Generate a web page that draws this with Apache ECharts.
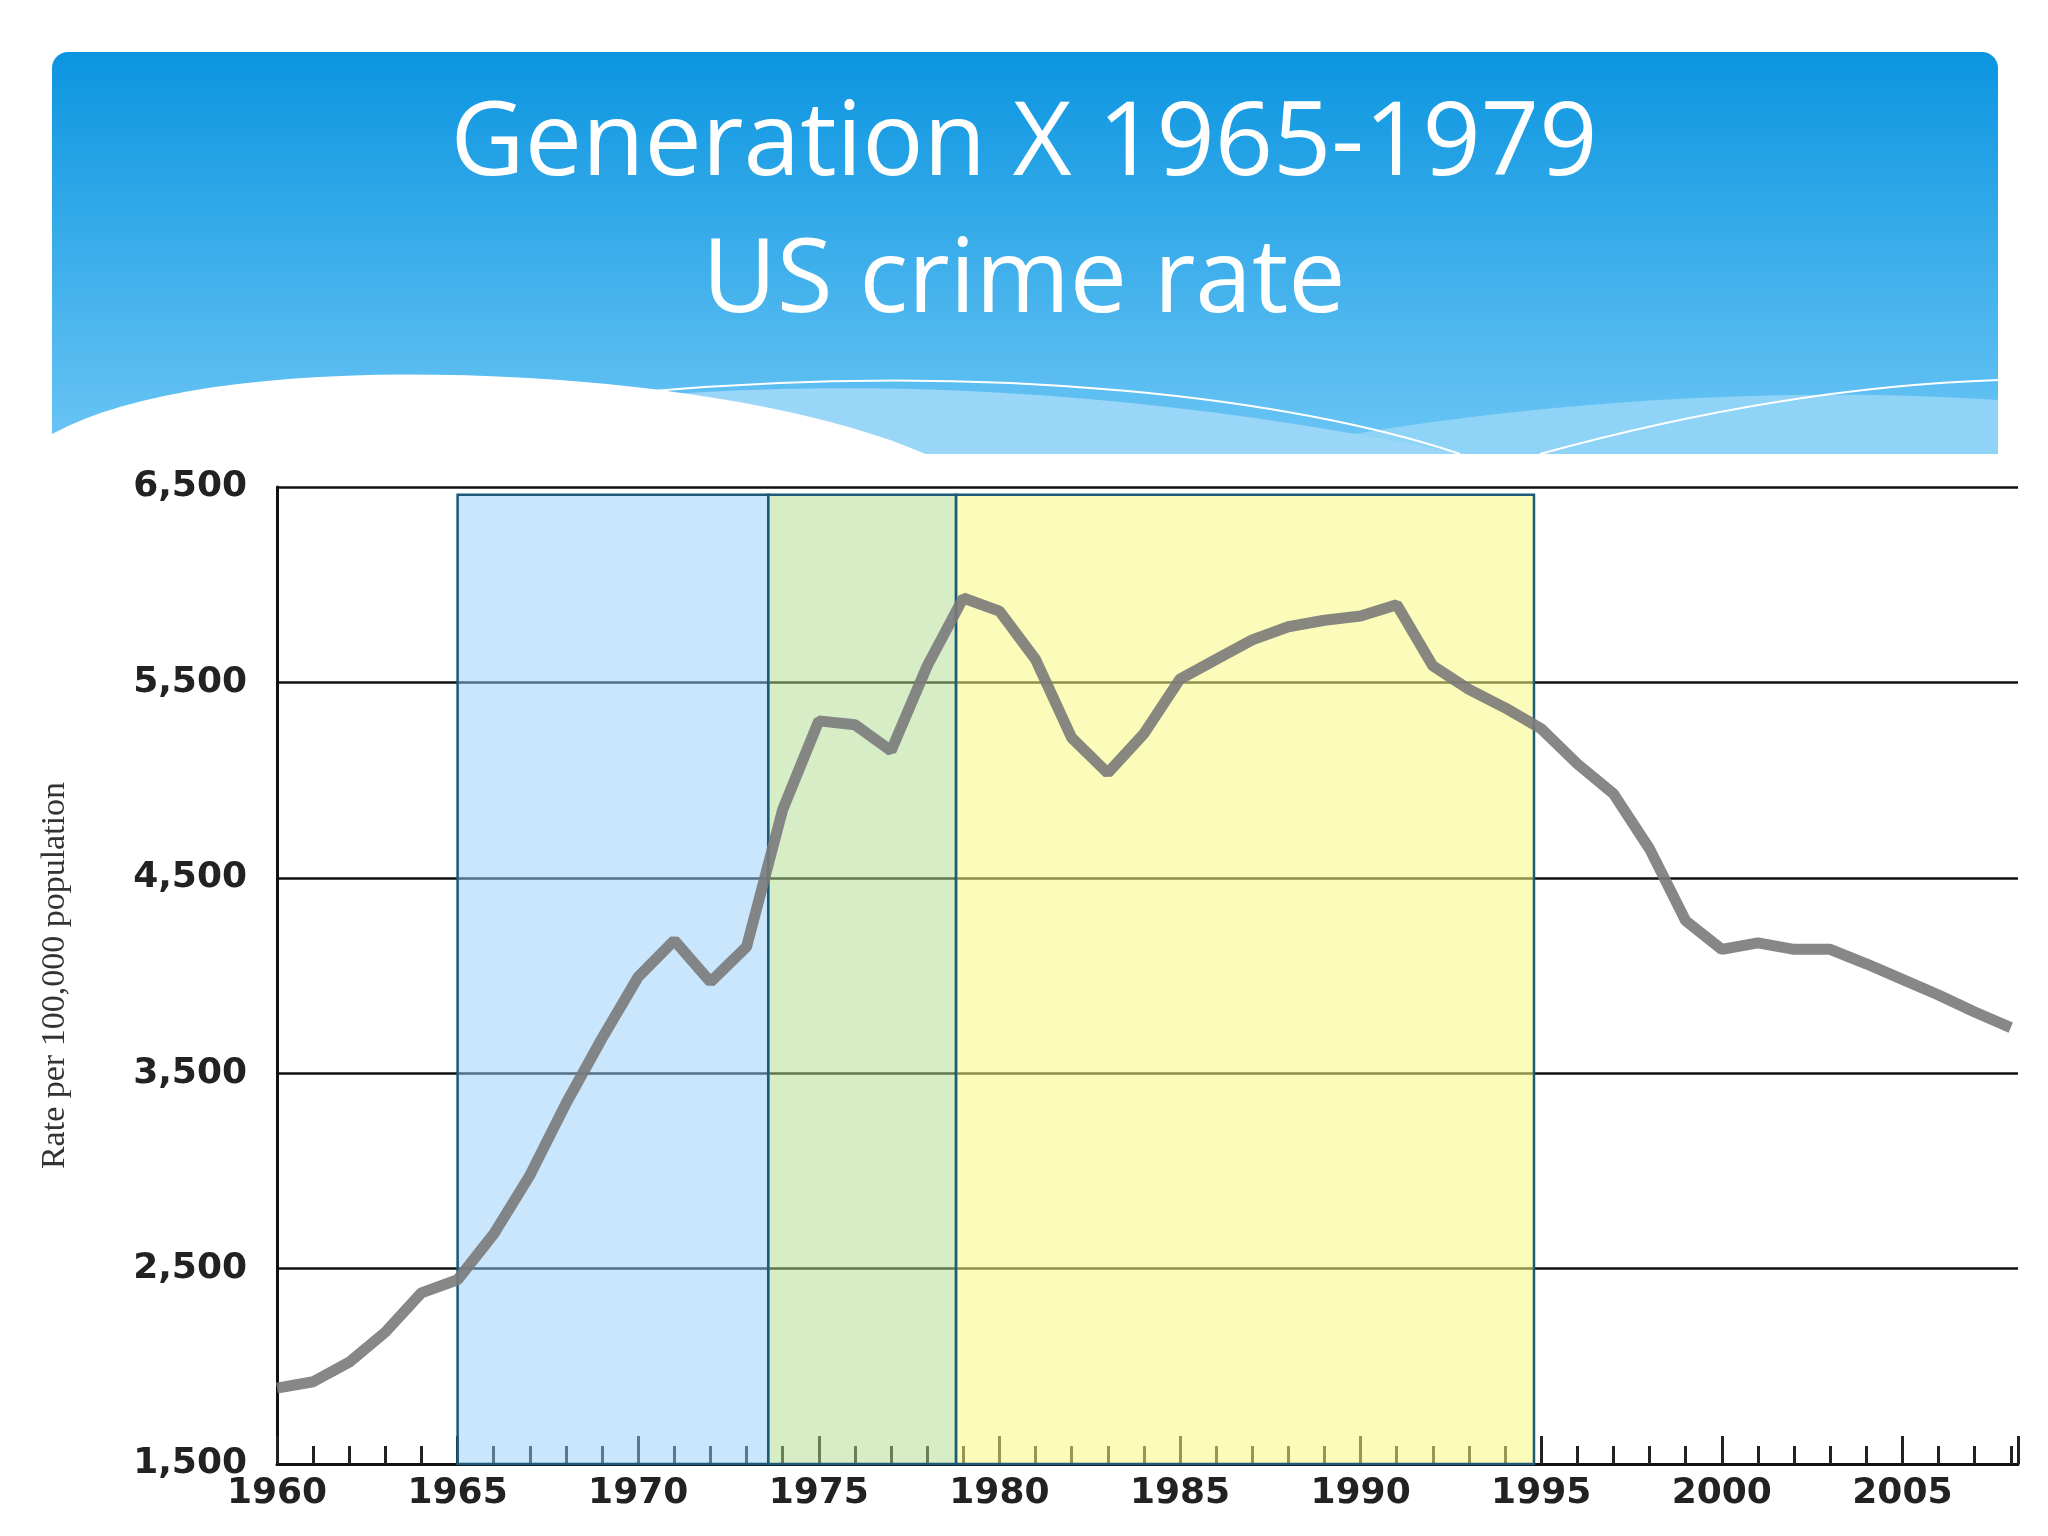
<!DOCTYPE html>
<html lang="en">
<head>
<meta charset="UTF-8">
<title>Generation X 1965-1979 US crime rate</title>
<script src="https://cdn.jsdelivr.net/npm/echarts@6/dist/echarts.min.js"></script>
<style>html,body{margin:0;background:#fff}#chart{width:2048px;height:1536px}</style>
</head>
<body>
<div id="chart"></div>
<script>
// crime rate per 100,000
var years = [];
for (var y = 1960; y <= 2008; y++) years.push(y);
var rates = [1888, 1921, 2021, 2175, 2376, 2443, 2677, 2977, 3345, 3679,
             3993, 4180, 3967, 4147, 4849, 5303, 5283, 5150, 5584, 5932,
             5865, 5618, 5217, 5036, 5237, 5517, 5618, 5718, 5785, 5818,
             5840, 5898, 5584, 5464, 5370, 5263, 5083, 4930, 4648, 4280,
             4134, 4167, 4134, 4134, 4060, 3980, 3900, 3813, 3733];
// shaded periods [from, to, colour]
var bands = [
    [1965, 1973.6, 'rgba(150,205,250,0.5)'],
    [1973.6, 1978.8, 'rgba(175,220,140,0.5)'],
    [1978.8, 1994.8, 'rgba(250,250,130,0.55)']
];
var bandTop = 6460;
var titleLines = ['Generation X 1965-1979', 'US crime rate'];

// sample a chain of cubic curves into polygon points (header decoration only)
function curvePts(start, segs, close) {
    var pts = [start], p = start;
    segs.forEach(function (s) {
        for (var t = 0.05; t <= 1.0001; t += 0.05) {
            var u = 1 - t;
            pts.push([
                u*u*u*p[0] + 3*u*u*t*s[0][0] + 3*u*t*t*s[1][0] + t*t*t*s[2][0],
                u*u*u*p[1] + 3*u*u*t*s[0][1] + 3*u*t*t*s[1][1] + t*t*t*s[2][1]
            ]);
        }
        p = s[2];
    });
    return pts.concat(close);
}

var chart = echarts.init(document.getElementById('chart'));
chart.setOption({
    backgroundColor: '#fff',
    animation: false,
    graphic: [
        {type: 'rect', shape: {x: 52, y: 52, width: 1946, height: 402, r: 16}, z: -10,
         style: {fill: new echarts.graphic.LinearGradient(0, 0, 0, 1, [
             {offset: 0, color: '#0b95e0'}, {offset: 1, color: '#6cc6f5'}])}},
        {type: 'polygon', z: -9, shape: {points: curvePts([1998, 400],
            [[[1700, 380], [1400, 420], [1250, 454]]], [[1998, 454]])}, style: {fill: '#8fd3f7'}},
        {type: 'polygon', z: -9, shape: {points: curvePts([600, 400],
            [[[900, 370], [1200, 400], [1460, 454]]], [[600, 454]])}, style: {fill: '#9ad6f7'}},
        {type: 'polygon', z: -8, shape: {points: curvePts([52, 434],
            [[[150, 380], [350, 365], [560, 380]], [[720, 392], [850, 420], [930, 456]]], [[52, 456]])},
         style: {fill: '#fff'}},
        {type: 'bezierCurve', z: -8, shape: {x1: 640, y1: 392, cpx1: 1000, cpy1: 360, cpx2: 1300, cpy2: 400, x2: 1460, y2: 454},
         style: {fill: 'none', stroke: '#fff', lineWidth: 2}},
        {type: 'bezierCurve', z: -8, shape: {x1: 1540, y1: 454, cpx1: 1700, cpy1: 410, cpx2: 1850, cpy2: 385, x2: 1998, y2: 380},
         style: {fill: 'none', stroke: '#fff', lineWidth: 2}},
        {type: 'text', left: 'center', top: 95,
         style: {text: titleLines[0], fill: '#fff', fontSize: 102, fontFamily: 'Open Sans'}},
        {type: 'text', left: 'center', top: 232,
         style: {text: titleLines[1], fill: '#fff', fontSize: 102, fontFamily: 'Open Sans'}}
    ],
    grid: {left: 277, right: 30, top: 487, bottom: 72},
    xAxis: {
        type: 'value', min: 1960, max: 2008.2, interval: 5,
        axisLine: {lineStyle: {color: '#111', width: 3}},
        axisTick: {inside: true, length: 28, lineStyle: {color: '#222', width: 3}},
        minorTick: {show: true, splitNumber: 5, length: 18, lineStyle: {color: '#222', width: 3}},
        splitLine: {show: false},
        axisLabel: {color: '#222', fontSize: 36, fontWeight: 'bold', fontFamily: 'DejaVu Sans', margin: 12,
            formatter: function (v) { return v % 5 === 0 ? String(v) : ''; }}
    },
    yAxis: {
        type: 'value', min: 1500, max: 6500, interval: 500,
        name: 'Rate per 100,000 population', nameLocation: 'middle', nameGap: 205,
        nameTextStyle: {color: '#333', fontSize: 34, fontFamily: 'Liberation Sans Narrow'},
        axisLine: {show: true, lineStyle: {color: '#111', width: 3}},
        axisTick: {show: false},
        splitLine: {lineStyle: {color: ['#111', 'transparent'], width: 2.5}},
        axisLabel: {color: '#222', fontSize: 36, fontWeight: 'bold', fontFamily: 'DejaVu Sans', margin: 30,
            formatter: function (v) { return (v - 1500) % 1000 === 0 ? v.toLocaleString('en-US') : ''; }}
    },
    series: [
        {type: 'line', data: years.map(function (y, i) { return [y, rates[i]]; }),
         showSymbol: false, z: 2,
         lineStyle: {color: '#7a7a7a', width: 11, opacity: 0.9}},
        {type: 'line', data: [], z: 5,
         markArea: {silent: true,
            data: bands.map(function (b) {
                return [{xAxis: b[0], yAxis: 1500, itemStyle: {color: b[2], borderColor: '#1d5a78', borderWidth: 2.5}},
                        {xAxis: b[1], yAxis: bandTop}];
            })}}
    ]
});
</script>
</body>
</html>
